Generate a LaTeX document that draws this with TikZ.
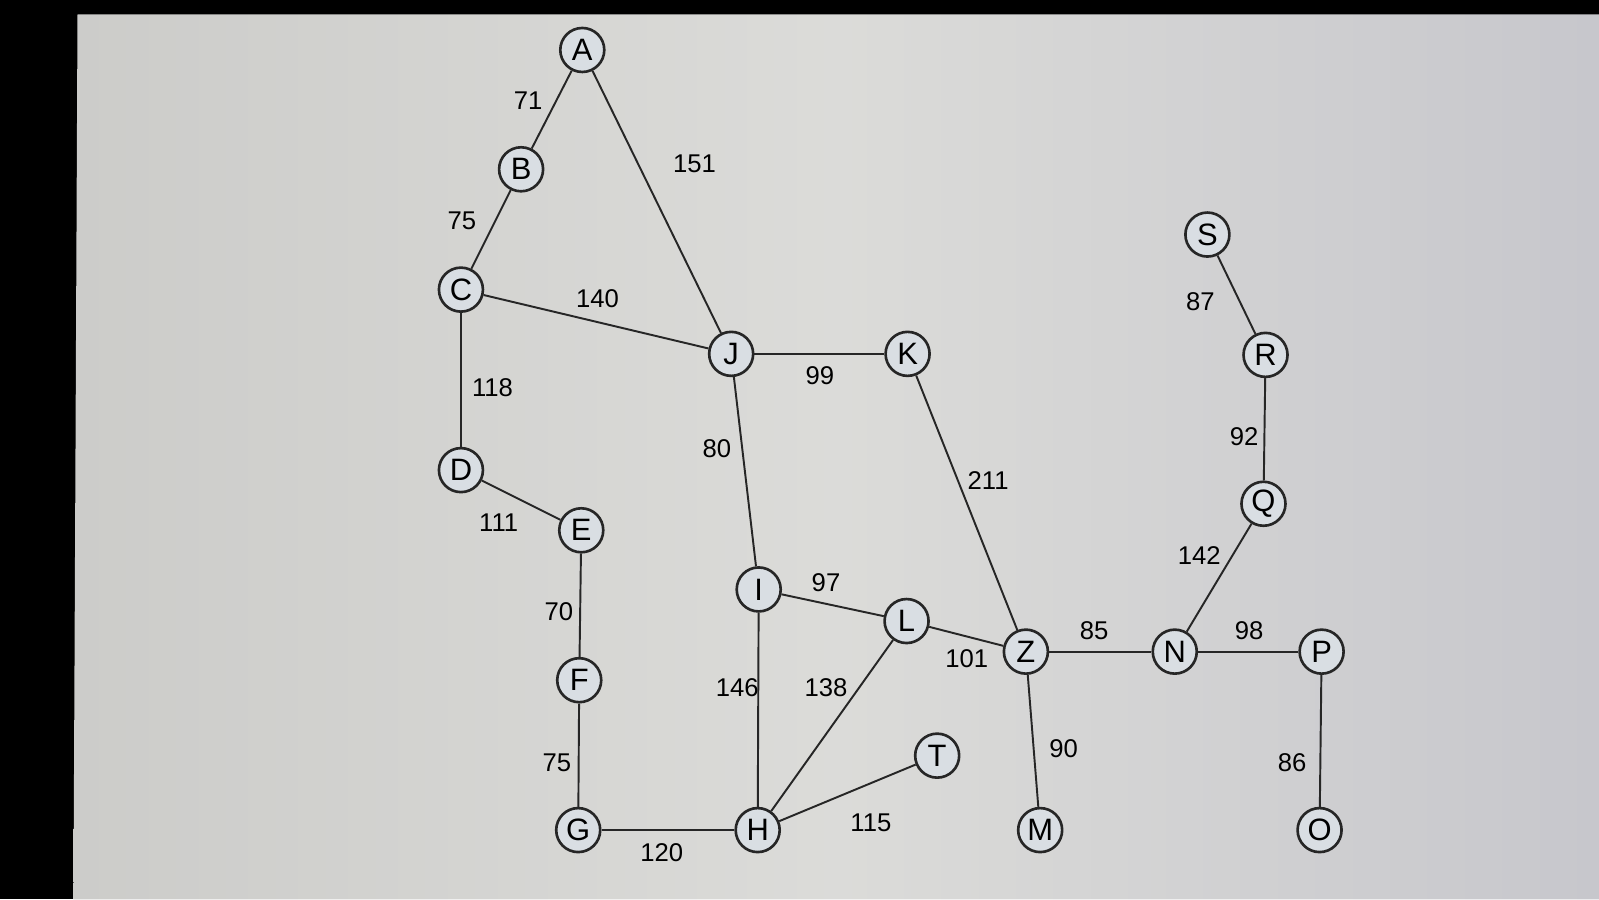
\documentclass[tikz,border=0pt]{standalone}
\usepackage{fontspec}
\setmainfont{Liberation Sans}
\usepackage{xcolor}
\usepackage{tikz}
\usetikzlibrary{positioning, calc}
\definecolor{screenL}{rgb}{0.80,0.80,0.79}
\definecolor{screenM}{rgb}{0.86,0.86,0.85}
\definecolor{screenR}{rgb}{0.78,0.78,0.80}
\definecolor{vfill}{rgb}{0.85,0.87,0.89}
\definecolor{edgecol}{rgb}{0.15,0.15,0.15}

\begin{document}
\begin{tikzpicture}[x=0.10198mm, y=-0.10198mm,
    vertex/.style={circle, draw=edgecol, line width=0.75pt, fill=vfill, minimum size=4.4mm, inner sep=0pt, font=\fontsize{8.8}{9}\selectfont},
    wt/.style={font=\fontsize{7.3}{8}\selectfont, inner sep=1pt},
    road/.style={draw=edgecol, line width=0.55pt}]
      % screen photo background
      \fill [black] (0,0) rectangle (1568,882);
      \shade [left color=screenL, right color=screenR, middle color=screenM] (76,14) -- (1568,14) -- (1568,882) -- (72,882) -- cycle;
      \useasboundingbox (0,0) rectangle (1568,882);

      \node [vertex] (A) at (571, 49) {A};
      \node [vertex] (B) at (511,166) {B};
      \node [vertex] (C) at (452,284) {C};
      \node [vertex] (D) at (452,461) {D};
      \node [vertex] (E) at (570,520) {E};
      \node [vertex] (F) at (568,667) {F};
      \node [vertex] (G) at (567,814) {G};
      \node [vertex] (H) at (743,814) {H};
      \node [vertex] (I) at (744,578) {I};
      \node [vertex] (J) at (717,347) {J};
      \node [vertex] (K) at (890,347) {K};
      \node [vertex] (L) at (889,609) {L};
      \node [vertex] (Z) at (1006,639) {Z};
      \node [vertex] (M) at (1020,814) {M};
      \node [vertex] (N) at (1152,639) {N};
      \node [vertex] (P) at (1296,639) {P};
      \node [vertex] (O) at (1294,814) {O};
      \node [vertex] (Q) at (1239,494) {Q};
      \node [vertex] (R) at (1241,348) {R};
      \node [vertex] (S) at (1184,230) {S};
      \node [vertex] (T) at (919,741) {T};

      \draw [road] (A) -- (B);
      \draw [road] (B) -- (C);
      \draw [road] (A) -- (J);
      \draw [road] (C) -- (J);
      \draw [road] (C) -- (D);
      \draw [road] (D) -- (E);
      \draw [road] (E) -- (F);
      \draw [road] (F) -- (G);
      \draw [road] (G) -- (H);
      \draw [road] (J) -- (K);
      \draw [road] (J) -- (I);
      \draw [road] (K) -- (Z);
      \draw [road] (I) -- (L);
      \draw [road] (L) -- (Z);
      \draw [road] (I) -- (H);
      \draw [road] (L) -- (H);
      \draw [road] (H) -- (T);
      \draw [road] (Z) -- (M);
      \draw [road] (Z) -- (N);
      \draw [road] (N) -- (P);
      \draw [road] (N) -- (Q);
      \draw [road] (Q) -- (R);
      \draw [road] (R) -- (S);
      \draw [road] (P) -- (O);

      \node [wt] (wAB) at (518, 99) {71};
      \node [wt] (wBC) at (453,217) {75};
      \node [wt] (wAJ) at (681,161) {151};
      \node [wt] (wCJ) at (586,293) {140};
      \node [wt] (wCD) at (483,380) {118};
      \node [wt] (wDE) at (489,513) {111};
      \node [wt] (wJK) at (804,368) {99};
      \node [wt] (wJI) at (703,440) {80};
      \node [wt] (wKZ) at (969,471) {211};
      \node [wt] (wEF) at (548,600) {70};
      \node [wt] (wIL) at (810,571) {97};
      \node [wt] (wLZ) at (948,646) {101};
      \node [wt] (wIH) at (723,674) {146};
      \node [wt] (wLH) at (810,674) {138};
      \node [wt] (wFG) at (546,748) {75};
      \node [wt] (wGH) at (649,836) {120};
      \node [wt] (wHT) at (854,807) {115};
      \node [wt] (wZM) at (1043,734) {90};
      \node [wt] (wZN) at (1073,618) {85};
      \node [wt] (wNP) at (1225,618) {98};
      \node [wt] (wNQ) at (1176,545) {142};
      \node [wt] (wQR) at (1220,428) {92};
      \node [wt] (wRS) at (1177,296) {87};
      \node [wt] (wPO) at (1267,748) {86};
    \end{tikzpicture}
\end{document}
